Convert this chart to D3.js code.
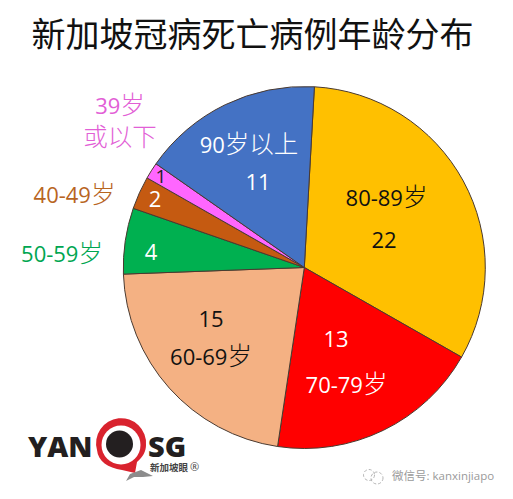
<!DOCTYPE html>
<html><head><meta charset="utf-8">
<style>html,body{margin:0;padding:0;background:#fff}svg{display:block}text{font-family:"Open Sans","Noto Sans CJK SC",sans-serif}</style>
<script src="https://cdn.jsdelivr.net/npm/d3@7"></script></head>
<body><svg id="c" width="513" height="499"></svg>
<script>
const title = "新加坡冠病死亡病例年龄分布";
const ageGroups = ["80-89岁","70-79岁","60-69岁","50-59岁","40-49岁","39岁或以下","90岁以上"];
const deaths = [22,13,15,4,2,1,11];
const sliceColors = ["#ffc000","#ff0000","#f4b183","#00b050","#c55a11","#ff66ff","#4472c4"];

const svg = d3.select("#c");
const cx = 304.3, cy = 267.5, R = 181;
const tilt = 3.2 * Math.PI / 180;

const pie = d3.pie().sort(null).value(d => d).startAngle(tilt).endAngle(tilt + 2 * Math.PI);
const arc = d3.arc().innerRadius(0).outerRadius(R);
const arcs = pie(deaths);

svg.append("text").attr("x", 252.5).attr("y", 47).attr("text-anchor", "middle")
  .attr("font-size", 34).attr("fill", "#111").text(title);

const g = svg.append("g").attr("transform", `translate(${cx},${cy})`);
g.selectAll("path").data(arcs).join("path")
  .attr("d", arc).attr("fill", (d, i) => sliceColors[i])
  .attr("stroke", "#4a3a30").attr("stroke-width", 1);

// Digits and Han characters get separate sizes so the two scripts look balanced
const labelText = (x, y, s, fill, latin = 22, han = 24.5) => {
  const t = svg.append("text").attr("x", x).attr("y", y)
    .attr("text-anchor", "middle").attr("fill", fill);
  String(s).match(/[\u4e00-\u9fff]+|[^\u4e00-\u9fff]+/g).forEach(run => {
    const isHan = /[\u4e00-\u9fff]/.test(run);
    t.append("tspan").attr("font-size", isHan ? han : latin)
      .attr("font-weight", isHan ? 300 : 400).text(run);
  });
};

labelText(386.5, 206, ageGroups[0], "#111");
labelText(384, 248, deaths[0], "#111");
labelText(336, 347, deaths[1], "#fff");
labelText(346.5, 393, ageGroups[1], "#fff");
labelText(211, 327, deaths[2], "#111");
labelText(211, 365, ageGroups[2], "#111");
labelText(151, 260, deaths[3], "#fff");
labelText(155, 207, deaths[4], "#fff");
labelText(161, 183, deaths[5], "#222", 19);
labelText(249, 153, ageGroups[6], "#fff");
labelText(258, 190, deaths[6], "#fff");

labelText(62, 262, ageGroups[3], "#00a651");
labelText(74.5, 203, ageGroups[4], "#b8651f");
labelText(120, 114, ageGroups[5].slice(0, 3), "#e25fd6");
labelText(120, 146, ageGroups[5].slice(3), "#e25fd6");

// Brand mark, lower left
const logo = svg.append("g");
const brandFont = "Inter,Roboto,sans-serif";
logo.append("text").attr("x", 28).attr("y", 457).attr("font-size", 29).attr("font-weight", 800)
  .attr("font-family", brandFont).attr("fill", "#231f20").text("YAN");
logo.append("path")
  .attr("d", "M97,450 C98,461 108,468 122,470 L135,473 L137,462 C143,457 146,451 146,445 A25,25 0 1 0 97,450 Z")
  .attr("fill", "#d9232e");
logo.append("circle").attr("cx", 121).attr("cy", 445).attr("r", 19.5).attr("fill", "#fff");
logo.append("circle").attr("cx", 119.5).attr("cy", 444).attr("r", 13.5).attr("fill", "#231f20");
logo.append("path").attr("d", "M126,481 L130,474 L141,470 L153,476 L143,477 L134,477 Z").attr("fill", "#8c8c8c");
logo.append("text").attr("x", 148).attr("y", 457).attr("font-size", 29).attr("font-weight", 800)
  .attr("font-family", brandFont).attr("fill", "#231f20").text("SG");
logo.append("text").attr("x", 150).attr("y", 471).attr("font-size", 9.5).attr("font-weight", 700)
  .attr("fill", "#444").text("新加坡眼");
logo.append("text").attr("x", 190).attr("y", 471).attr("font-size", 11)
  .attr("fill", "#444").text("®");

// Account credit, lower right
const wm = svg.append("g").attr("fill", "#9a9a9a");
wm.append("circle").attr("cx", 369).attr("cy", 475).attr("r", 5.5).attr("fill", "none")
  .attr("stroke", "#b5b5b5").attr("stroke-dasharray", "3 2");
wm.append("circle").attr("cx", 377).attr("cy", 478).attr("r", 6).attr("fill", "none")
  .attr("stroke", "#b5b5b5").attr("stroke-dasharray", "3 2");
wm.append("text").attr("x", 392).attr("y", 480).attr("font-size", 11.5).text("微信号: kanxinjiapo");
</script></body></html>
